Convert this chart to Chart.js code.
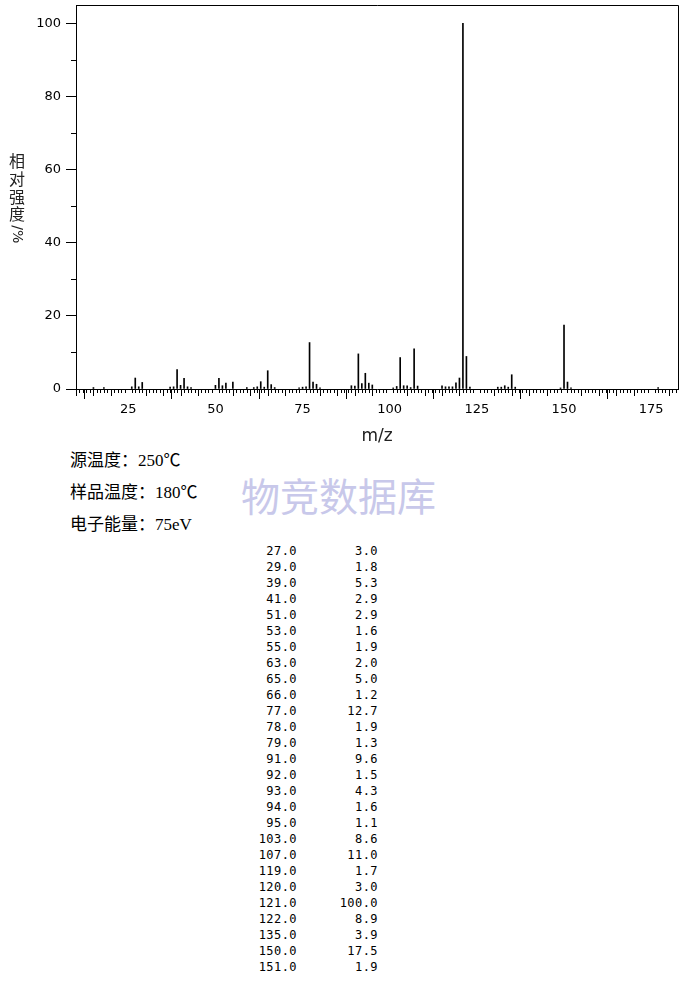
<!DOCTYPE html>
<html>
<head>
<meta charset="utf-8">
<script src="https://cdn.jsdelivr.net/npm/chart.js@4.4.1/dist/chart.umd.min.js"></script>
<style>
  body { margin: 0; background: #fff; }
  #wrap { position: relative; width: 680px; height: 992px; overflow: hidden; }
  #chartBox { position: absolute; left: 0; top: 0; width: 680px; height: 450px; }
  .cond { position: absolute; left: 70px; height: 20px; line-height: 20px; font-size: 17px;
          font-family: "Liberation Serif", "Noto Sans CJK SC", serif; color: #000; white-space: nowrap; }
  #mark { position: absolute; left: 241px; top: 472px; font-size: 39px; line-height: 44px;
          font-family: "Noto Sans CJK SC", sans-serif; color: #c8c8ea; white-space: nowrap; }
  .row { position: absolute; left: 0; width: 680px; height: 16px; line-height: 16px;
         font-family: "DejaVu Sans Mono", monospace; font-size: 12px; letter-spacing: 0.45px; color: #000; }
  .row span { position: absolute; left: 0; text-align: right; }
</style>
</head>
<body>
<div id="wrap">
  <div id="chartBox"><canvas id="chart" width="680" height="450"></canvas></div>
  <div id="mark">物竞数据库</div>
  <div id="conds"></div>
  <div id="peakTable"></div>
</div>
<script>
// listed peaks (m/z, relative intensity %)
var peakMz  = [27, 29, 39, 41, 51, 53, 55, 63, 65, 66, 77, 78, 79, 91, 92, 93, 94, 95, 103, 107, 119, 120, 121, 122, 135, 150, 151];
var peakInt = [3.0, 1.8, 5.3, 2.9, 2.9, 1.6, 1.9, 2.0, 5.0, 1.2, 12.7, 1.9, 1.3, 9.6, 1.5, 4.3, 1.6, 1.1, 8.6, 11.0, 1.7, 3.0, 100.0, 8.9, 3.9, 17.5, 1.9];

// small peaks only seen in the plot (estimated)
var minorMz  = [15, 18, 26, 28, 37, 38, 40, 42, 43, 50, 52, 59, 61, 62, 64, 67, 74, 75, 76, 80, 89, 90, 101, 102, 104, 105, 106, 108, 115, 116, 117, 118, 123, 131, 132, 133, 134, 136, 149, 152, 177];
var minorInt = [0.4, 0.4, 0.6, 0.6, 0.5, 0.6, 1.0, 0.6, 0.4, 1.0, 0.9, 0.4, 0.4, 0.6, 0.5, 0.4, 0.3, 0.5, 0.6, 0.3, 0.9, 0.8, 0.3, 0.7, 0.9, 0.9, 0.4, 0.8, 0.9, 0.6, 0.6, 0.6, 0.5, 0.5, 0.5, 0.9, 0.5, 0.5, 0.3, 0.3, 0.4];

var condLabels = ['源温度：', '样品温度：', '电子能量：'];
var condValues = ['250℃', '180℃', '75eV'];

var xMin = 10, xMax = 182.7;
var yMin = 0, yMax = 105;
var xTickLabels = [25, 50, 75, 100, 125, 150, 175];
var yTickLabels = [0, 20, 40, 60, 80, 100];
var yTitleChars = ['相', '对', '强', '度'];
var yTitleTail = '/%';

var points = [];
for (var i = 0; i < peakMz.length; i++) points.push({x: peakMz[i], y: peakInt[i]});
for (var j = 0; j < minorMz.length; j++) points.push({x: minorMz[j], y: minorInt[j]});
points.sort(function (a, b) { return a.x - b.x; });

// frame, minor ticks and vertical y title
var extrasPlugin = {
    id: 'extras',
    afterDraw: function (chart) {
        var ctx = chart.ctx;
        var area = chart.chartArea;
        var xs = chart.scales.x, ys = chart.scales.y;
        ctx.save();
        ctx.strokeStyle = '#000';
        ctx.lineWidth = 1;
        ctx.beginPath();
        // top and right sides of the box
        ctx.moveTo(Math.round(area.left), Math.round(area.top) + 0.5);
        ctx.lineTo(Math.round(area.right) + 0.5, Math.round(area.top) + 0.5);
        ctx.lineTo(Math.round(area.right) + 0.5, Math.round(area.bottom));
        // x minor ticks every unit, medium every 5
        for (var v = Math.ceil(xMin); v <= Math.floor(xMax); v++) {
            if (xTickLabels.indexOf(v) >= 0) continue;
            var px = Math.round(xs.getPixelForValue(v)) + 0.5;
            var len = (v % 5 === 0) ? 7 : 4;
            ctx.moveTo(px, Math.round(area.bottom));
            ctx.lineTo(px, Math.round(area.bottom) + len);
        }
        // y minor ticks
        for (var w = 10; w < yMax; w += 20) {
            var py = Math.round(ys.getPixelForValue(w)) + 0.5;
            ctx.moveTo(Math.round(area.left), py);
            ctx.lineTo(Math.round(area.left) - 5, py);
        }
        ctx.stroke();

        // y title, characters stacked
        ctx.fillStyle = '#222';
        ctx.textAlign = 'center';
        ctx.textBaseline = 'middle';
        ctx.font = '16px "Noto Sans CJK SC", sans-serif';
        var cy = 161;
        for (var k = 0; k < yTitleChars.length; k++) {
            ctx.fillText(yTitleChars[k], 17, cy);
            cy += 17.8;
        }
        ctx.translate(17, cy + 2);
        ctx.rotate(Math.PI / 2);
        ctx.font = '14px "DejaVu Sans", sans-serif';
        ctx.fillText(yTitleTail, 0, 0);
        ctx.restore();
    }
};

function fixTicks(list) {
    return function (s) {
        s.ticks = list.map(function (v) { return {value: v}; });
    };
}

var chart = new Chart(document.getElementById('chart'), {
    type: 'bar',
    data: {
        datasets: [{
            data: points,
            backgroundColor: '#000',
            borderWidth: 0,
            barThickness: 1
        }]
    },
    options: {
        responsive: false,
        animation: false,
        devicePixelRatio: 1,
        layout: { padding: { top: 5, right: 2, left: 0, bottom: 0 } },
        plugins: { legend: { display: false }, tooltip: { enabled: false } },
        scales: {
            x: {
                type: 'linear',
                min: xMin,
                max: xMax,
                offset: false,
                afterFit: function (s) { s.height = 61; s.paddingLeft = 0; s.paddingRight = 0; },
                afterBuildTicks: fixTicks(xTickLabels),
                ticks: { color: '#000', padding: 3, maxRotation: 0, autoSkip: false,
                         font: { family: 'DejaVu Sans', size: 13 } },
                grid: { drawOnChartArea: false, tickLength: 10, color: '#000' },
                border: { color: '#000' },
                title: { display: true, text: 'm/z', color: '#222', padding: { top: 0, bottom: 3 },
                         font: { family: 'DejaVu Sans', size: 17 } }
            },
            y: {
                min: yMin,
                max: yMax,
                afterFit: function (s) { s.width = 76; s.paddingTop = 0; s.paddingBottom = 0; },
                afterBuildTicks: fixTicks(yTickLabels),
                ticks: { color: '#000', padding: 5, autoSkip: false,
                         font: { family: 'DejaVu Sans', size: 13 } },
                grid: { drawOnChartArea: false, tickLength: 10, color: '#000' },
                border: { color: '#000' }
            }
        }
    },
    plugins: [extrasPlugin]
});

// instrument conditions
var conds = document.getElementById('conds');
for (var c = 0; c < condLabels.length; c++) {
    var line = document.createElement('div');
    line.className = 'cond';
    line.style.top = (451 + c * 32) + 'px';
    line.textContent = condLabels[c] + condValues[c];
    conds.appendChild(line);
}

// peak list
var table = document.getElementById('peakTable');
for (var r = 0; r < peakMz.length; r++) {
    var row = document.createElement('div');
    row.className = 'row';
    row.style.top = (543 + r * 16) + 'px';
    var a = document.createElement('span');
    a.style.width = '297px';
    a.textContent = peakMz[r].toFixed(1);
    var b = document.createElement('span');
    b.style.width = '378px';
    b.textContent = peakInt[r].toFixed(1);
    row.appendChild(a);
    row.appendChild(b);
    table.appendChild(row);
}
</script>
</body>
</html>
